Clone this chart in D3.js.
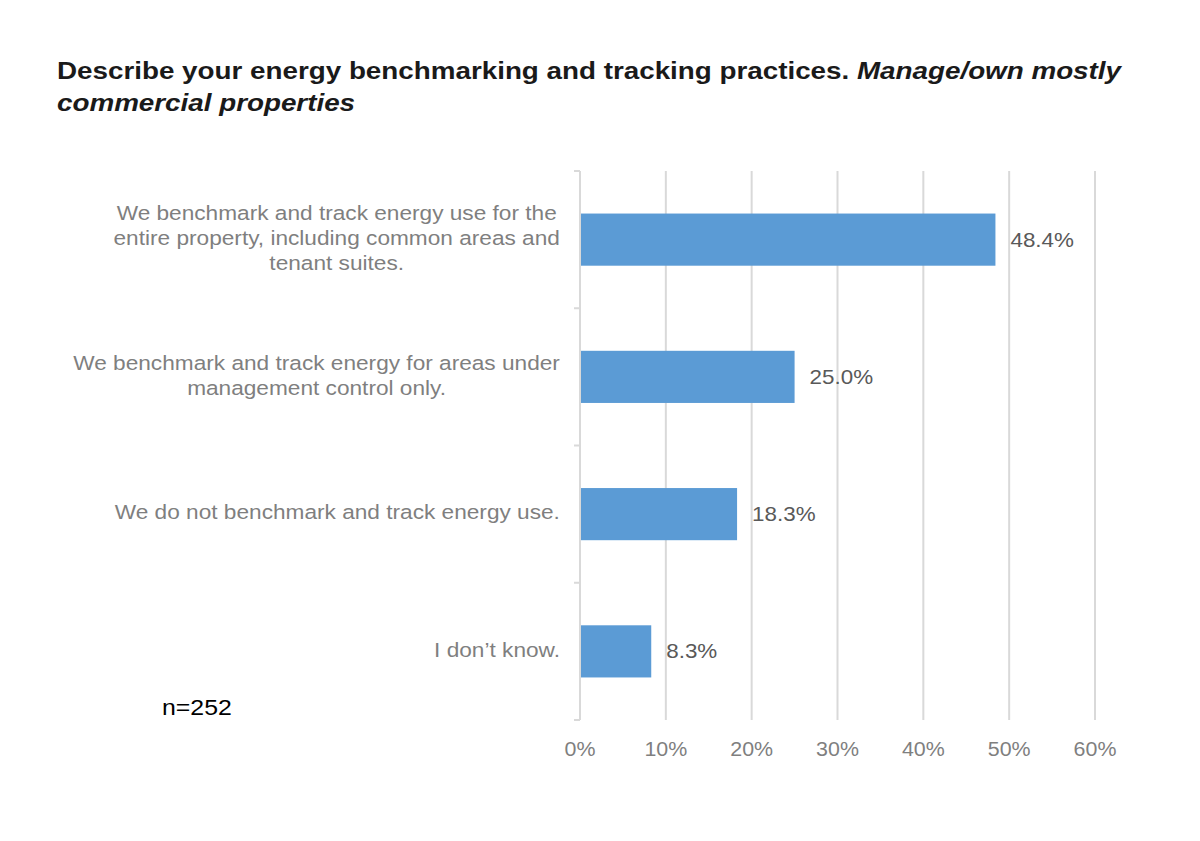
<!DOCTYPE html>
<html>
<head>
<meta charset="utf-8">
<script src="https://cdn.jsdelivr.net/npm/d3@7"></script>
<style>
  body { margin: 0; background: #fff; }
  svg text { font-family: "Liberation Sans", Arial, sans-serif; }
</style>
</head>
<body>
<div id="chart"></div>
<script>
// chart data
const categories = [
  ["We benchmark and track energy use for the", "entire property, including common areas and", "tenant suites."],
  ["We benchmark and track energy for areas under", "management control only."],
  ["We do not benchmark and track energy use."],
  ["I don\u2019t know."]
];
const values = [48.4, 25.0, 18.3, 8.3];
const xTicks = [0, 10, 20, 30, 40, 50, 60];

const width = 1200, height = 841;
const margin = {top: 171, left: 580, right: 105, bottom: 121};

const svg = d3.select("#chart").append("svg")
  .attr("width", width)
  .attr("height", height);

const x = d3.scaleLinear().domain([0, 60]).range([margin.left, width - margin.right]);
const y = d3.scaleBand().domain(d3.range(values.length))
  .range([margin.top, height - margin.bottom])
  .paddingInner(0.62).paddingOuter(0.31);

// the source text is a bit wider than Arial, so stretch it horizontally
const place = (px, py, sx) => `translate(${px},${py}) scale(${sx},1)`;

// gridlines
svg.append("g").selectAll("line")
  .data(xTicks.slice(1))
  .join("line")
  .attr("x1", d => x(d)).attr("x2", d => x(d))
  .attr("y1", margin.top).attr("y2", height - margin.bottom)
  .attr("stroke", "#d9d9d9").attr("stroke-width", 2);

// y axis line + ticks
const bandEdges = d3.range(values.length + 1).map(i => margin.top + i * y.step());
svg.append("line")
  .attr("x1", x(0)).attr("x2", x(0))
  .attr("y1", margin.top).attr("y2", height - margin.bottom)
  .attr("stroke", "#d9d9d9").attr("stroke-width", 2);
svg.append("g").selectAll("line")
  .data(bandEdges)
  .join("line")
  .attr("x1", x(0) - 6).attr("x2", x(0))
  .attr("y1", d => d).attr("y2", d => d)
  .attr("stroke", "#d9d9d9").attr("stroke-width", 2);

// bars
svg.append("g").selectAll("rect")
  .data(values)
  .join("rect")
  .attr("x", x(0) + 1)
  .attr("y", (d, i) => y(i))
  .attr("width", d => x(d) - x(0) - 1)
  .attr("height", y.bandwidth())
  .attr("fill", "#5b9bd5");

// value labels
svg.append("g").selectAll("text")
  .data(values)
  .join("text")
  .attr("transform", (d, i) => place(x(d) + 15, y(i) + y.bandwidth() / 2, 1.12))
  .attr("dy", "0.35em")
  .attr("font-size", 20)
  .attr("fill", "#595959")
  .text(d => d.toFixed(1) + "%");

// category labels: lines centred on each other, block right-aligned at 560
const lineH = 25, catSx = 1.105, labelRight = 560;
svg.append("g").selectAll("text")
  .data(categories)
  .join("text")
  .attr("text-anchor", "middle")
  .attr("font-size", 20.5)
  .attr("fill", "#7f7f7f")
  .each(function(d, i) {
    const t = d3.select(this);
    t.selectAll("tspan")
      .data(d)
      .join("tspan")
      .attr("x", 0)
      .attr("dy", (s, j) => j === 0 ? "0.35em" : lineH)
      .text(s => s);
    let maxW = 0;
    t.selectAll("tspan").each(function() { maxW = Math.max(maxW, this.getComputedTextLength()); });
    const cx = labelRight - maxW * catSx / 2;
    const cy = y(i) + y.bandwidth() / 2 - 2 - (d.length - 1) * lineH / 2;
    t.attr("transform", place(cx, cy, catSx));
  });

// x tick labels
svg.append("g").selectAll("text")
  .data(xTicks)
  .join("text")
  .attr("transform", d => place(x(d), 756, 1.07))
  .attr("text-anchor", "middle")
  .attr("font-size", 20)
  .attr("fill", "#7f7f7f")
  .text(d => d + "%");

// title
const title = svg.append("text")
  .attr("transform", place(57, 79, 1.135))
  .attr("font-size", 24.5).attr("font-weight", "bold").attr("fill", "#1a1a1a");
title.append("tspan").text("Describe your energy benchmarking and tracking practices. ");
title.append("tspan").attr("font-style", "italic").text("Manage/own mostly");
svg.append("text")
  .attr("transform", place(57, 111, 1.135))
  .attr("font-size", 24.5).attr("font-weight", "bold").attr("font-style", "italic")
  .attr("fill", "#1a1a1a")
  .text("commercial properties");

svg.append("text")
  .attr("transform", place(162, 715, 1.13))
  .attr("font-size", 22).attr("fill", "#000")
  .text("n=252");
</script>
</body>
</html>
